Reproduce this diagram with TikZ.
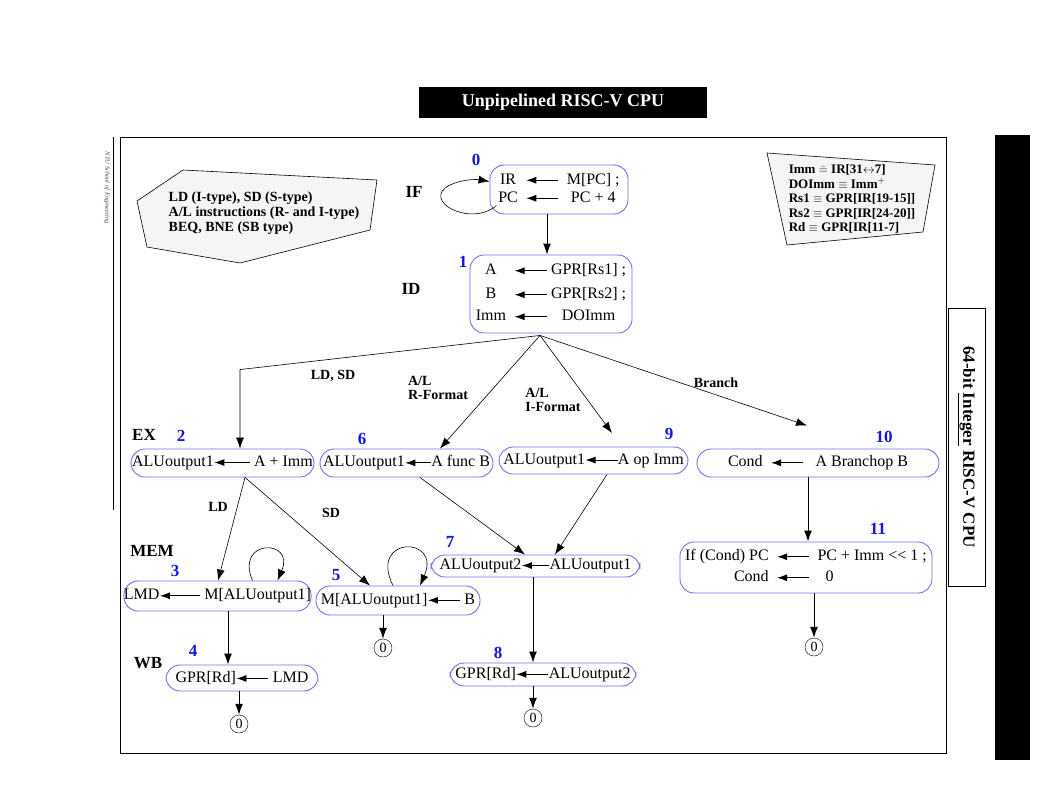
\documentclass[tikz,border=0pt]{standalone}
\usepackage{fontspec}
\setmainfont{Liberation Serif}[Ligatures=NoCommon]
\usetikzlibrary{arrows.meta,calc}
\newcommand\lar[1][2em]{\tikz[baseline=-0.55ex]\draw[-{Latex[length=10pt,width=7pt]},line width=0.9pt] (#1,0)--(0pt,0pt);}
\definecolor{sb}{RGB}{110,110,250}
\definecolor{nb}{RGB}{20,20,230}
\begin{document}
\begin{tikzpicture}[x=1pt,y=-1pt,
  st/.style={draw=sb,line width=0.9pt,rounded corners=14pt,inner sep=0pt,font=\fontsize{16}{19}\selectfont},
  num/.style={text=nb,font=\fontsize{17}{19}\selectfont\bfseries},
  stage/.style={font=\fontsize{17}{19}\selectfont\bfseries},
  lab/.style={font=\fontsize{14}{16}\selectfont\bfseries,align=left},
  term/.style={draw,circle,inner sep=0pt,minimum size=18pt,font=\fontsize{14}{16}\selectfont},
  ed/.style={-{Latex[length=11pt,width=8pt]},line width=0.6pt},
  edb/.style={-{Latex[length=11pt,width=8pt]},line width=1pt}]
\useasboundingbox (0,0) rectangle (1061,795);
% frames
\node[fill=black,text=white,minimum width=288pt,minimum height=31pt,font=\fontsize{18}{20}\selectfont\bfseries] (title) at (563,102.5) {Unpipelined RISC-V CPU};
\draw[line width=0.8pt] (120,137) rectangle (946,753);
\fill (995,135) rectangle (1030,760);
\draw[line width=0.8pt] (948,308) rectangle (985,586);
\node[rotate=-90,font=\fontsize{17}{19}\selectfont\bfseries] (side) at (966.5,447) {64-bit \underline{Integer} RISC-V CPU};
\node[rotate=-90,font=\fontsize{6.5}{7}\selectfont\itshape,text=black!70] (ntu) at (107,188) {NTU School of Engineering};
\draw[line width=0.6pt] (113,137) -- (113,510);
% notes
\draw[fill=black!4,line width=0.6pt] (183,170) -- (377,180) -- (370,230) -- (240,263) -- (147,247) -- (137,201) -- cycle;
\node[lab] (note1) at (264,213) {LD (I-type), SD (S-type)\\[-1pt]A/L instructions (R- and I-type)\\[-1pt]BEQ, BNE (SB type)};
\draw[fill=black!4,line width=0.6pt] (767,153) -- (935,165) -- (923,232) -- (787,245) -- cycle;
\node[font=\fontsize{13}{14.5}\selectfont\bfseries,align=left] (note2) at (852,199) {Imm $\bar{=}$ IR[31$\leftrightarrow$7]\\DOImm $\equiv$ Imm$^{+}$\\Rs1 $\equiv$ GPR[IR[19-15]]\\Rs2 $\equiv$ GPR[IR[24-20]]\\Rd $\equiv$ GPR[IR[11-7]};
% stage labels
\node[stage] (IF) at (414,192) {IF};
\node[stage] (ID) at (411,289) {ID};
\node[stage] (EX) at (144,435) {EX};
\node[stage] (MEM) at (152,551) {MEM};
\node[stage] (WB) at (148,663) {WB};
% states
\node[st,minimum width=138pt,minimum height=49pt] (s0) at (559,189.5) {\begin{tabular}{@{}c@{\ \ }c@{\ \ }c@{}}IR&\lar&M[PC] ;\\[-1pt]PC&\lar&PC + 4\end{tabular}};
\node[st,minimum width=162pt,minimum height=78pt] (s1) at (551,294) {\begin{tabular}{@{}c@{\ \ }c@{\ }c@{}}A&\lar&GPR[Rs1] ;\\[5pt]B&\lar&GPR[Rs2] ;\\[3pt]Imm&\lar&DOImm\end{tabular}};
\node[st,minimum width=183pt,minimum height=28pt] (s2) at (222.5,463) {ALUoutput1\lar[2.2em]\ A + Imm};
\node[st,minimum width=173pt,minimum height=28pt] (s6) at (406.5,463) {ALUoutput1\lar[1.6em]A func B};
\node[st,minimum width=189pt,minimum height=27pt] (s9) at (593.5,460.5) {ALUoutput1\lar[2em]A op Imm};
\node[st,minimum width=242pt,minimum height=28pt] (s10) at (818,463) {Cond\ \ \lar[2em]\ \ \ A Branchop B};
\node[st,minimum width=252pt,minimum height=51pt] (s11) at (806,567.5) {\begin{tabular}{@{}r@{\ \ }c@{\ \ }l@{}}If (Cond) PC&\lar&PC + Imm \mbox{<}\mbox{<} 1 ;\\[2pt]Cond&\lar&\ \ 0\end{tabular}};
\node[st,minimum width=209pt,minimum height=22pt] (s7) at (535.5,566) {ALUoutput2\lar[1.7em]ALUoutput1};
\node[st,minimum width=185pt,minimum height=30pt] (s3) at (217.5,596) {LMD\lar[2.5em]\ M[ALUoutput1]};
\node[st,minimum width=164pt,minimum height=29pt] (s5) at (398,600.5) {M[ALUoutput1]\lar[2em]\ B};
\node[st,minimum width=152pt,minimum height=26pt] (s4) at (242,678) {GPR[Rd]\lar[2em]\ LMD};
\node[st,minimum width=186pt,minimum height=23pt] (s8) at (543,674.5) {GPR[Rd]\lar[2em]ALUoutput2};
% numbers
\node[num] (n0) at (476,160) {0};
\node[num] (n1) at (463,262) {1};
\node[num] (n2) at (181,436) {2};
\node[num] (n6) at (362,439) {6};
\node[num] (n9) at (669,434) {9};
\node[num] (n10) at (884,437) {10};
\node[num] (n11) at (878,529) {11};
\node[num] (n7) at (450,542) {7};
\node[num] (n3) at (175,571) {3};
\node[num] (n5) at (336,575) {5};
\node[num] (n4) at (193,651) {4};
\node[num] (n8) at (498,653) {8};
% terminals
\node[term] (t4) at (239,724) {0};
\node[term] (t5) at (383,648) {0};
\node[term] (t8) at (533,718) {0};
\node[term] (t11) at (814,647) {0};
% edge labels
\node[lab] (lLDSD) at (333,376) {LD, SD};
\node[lab] (lR) at (438,388) {A/L\\[-2pt]R-Format};
\node[lab] (lI) at (553,400) {A/L\\[-2pt]I-Format};
\node[lab] (lB) at (716,383) {Branch};
\node[lab] (lLD) at (218,507) {LD};
\node[lab] (lSD) at (331,513) {SD};
% edges
\coordinate (b1) at ($(s1.south)+(-11,2)$);
\coordinate (kink) at ($(s2.north)+(17.5,-79)$);
\draw[edb] ($(s0.south)+(-12,0)$) -- ($(s1.north)+(-4,0)$);
\draw[ed] ($(s0.west)+(7,16)$) .. controls (470,228) and (420,200) .. (450,185) .. controls (460,180) and (475,179) .. ($(s0.west)+(0,-8)$);
\draw[ed] (b1) -- (kink) -- ($(s2.north)+(17.5,0)$);
\draw[ed] (b1) -- ($(s6.north)+(33.5,0)$);
\draw[ed] (b1) -- ($(s9.north)+(18.5,-13.5)$);
\draw[ed] (b1) -- ($(s10.north)+(-11,-23)$);
\draw[ed] ($(s2.south)+(22.5,0)$) -- ($(s3.north)+(0.5,0)$);
\draw[ed] ($(s2.south)+(22.5,0)$) -- ($(s5.north)+(-28,0)$);
\draw[ed] ($(s6.south)+(13.5,0)$) -- ($(s7.north)+(-10.5,0)$);
\draw[ed] ($(s9.south)+(13.5,0)$) -- ($(s7.north)+(19.5,0)$);
\draw[edb] ($(s10.south)+(-10,0)$) -- ($(s11.north)+(2,0)$);
\draw[ed] ($(s3.north)+(35,0)$) .. controls ++(-18,-42) and ++(18,-42) .. ($(s3.north)+(60,0)$);
\draw[ed] ($(s5.north)+(-5,0)$) .. controls ++(-25,-50) and ++(22,-50) .. ($(s5.north)+(22,0)$);
\draw[edb] ($(s3.south)+(10.5,0)$) -- ($(s4.north)+(-14,0)$);
\draw[edb] ($(s5.south)+(-15,0)$) -- (t5);
\draw[edb] ($(s4.south)+(-3,0)$) -- (t4);
\draw[edb] ($(s7.south)+(-2.5,0)$) -- ($(s8.north)+(-10,0)$);
\draw[edb] ($(s8.south)+(-10,0)$) -- (t8);
\draw[edb] ($(s11.south)+(8,0)$) -- (t11);
\end{tikzpicture}
\end{document}
